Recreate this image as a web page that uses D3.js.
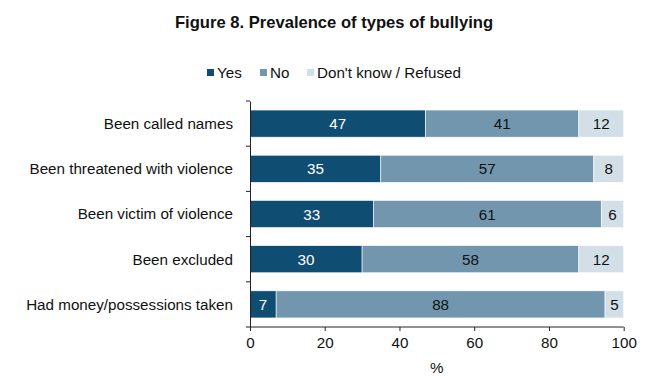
<!DOCTYPE html>
<html><head><meta charset="utf-8">
<script src="https://cdn.jsdelivr.net/npm/d3@7"></script>
<style>body{margin:0;background:#fff}svg{display:block;font-family:"Liberation Sans",Arial,sans-serif}</style>
</head><body>
<svg id="c" width="661" height="382"></svg>
<script>
const categories = ["Been called names","Been threatened with violence","Been victim of violence","Been excluded","Had money/possessions taken"];
const seriesNames = ["Yes","No","Don't know / Refused"];
const yesValues = [47,35,33,30,7];
const noValues = [41,57,61,58,88];
const dkValues = [12,8,6,12,5];
const xTicks = [0,20,40,60,80,100];
const colors = ["#0f4d72","#7196ae","#d3dfe7"];
const labelColors = ["#ffffff","#111111","#111111"];

const svg = d3.select("#c");
const margin = {left:250, right:37, top:101, bottom:55};
const x = d3.scaleLinear().domain([0,100]).range([margin.left, 623.7]);
const y = d3.scaleBand().domain(categories).range([margin.top, 327]).paddingInner(0.4).paddingOuter(0.2);
const FS = 15.2;

svg.append("text").attr("x",334).attr("y",28).attr("text-anchor","middle")
  .attr("font-weight","bold").attr("font-size",16.6).attr("fill","#111").text("Figure 8. Prevalence of types of bullying");

// legend
const legX = [207,260,307];
seriesNames.forEach((n,i)=>{
  svg.append("rect").attr("x",legX[i]).attr("y",69).attr("width",7).attr("height",7).attr("fill",colors[i]);
  svg.append("text").attr("x",legX[i]+10).attr("y",78).attr("font-size",FS).attr("fill","#111").text(n);
});

const rows = categories.map((c,i)=>({c, vals:[yesValues[i],noValues[i],dkValues[i]]}));
rows.forEach(r=>{
  let acc=0;
  r.vals.forEach((v,j)=>{
    const x0=x(acc), x1=x(acc+v);
    svg.append("rect").attr("x",x0).attr("y",y(r.c)).attr("width",x1-x0).attr("height",y.bandwidth())
      .attr("fill",colors[j]).attr("stroke","#fff").attr("stroke-width",0.6);
    svg.append("text").attr("x",(x0+x1)/2).attr("y",y(r.c)+y.bandwidth()/2+5.5).attr("text-anchor","middle")
      .attr("font-size",FS).attr("fill",labelColors[j]).text(v);
    acc+=v;
  });
});

// y axis
const yAxis = d3.axisLeft(y).tickSize(0).tickPadding(17);
const gy = svg.append("g").attr("transform",`translate(${margin.left},0)`).call(yAxis);
gy.select(".domain").attr("stroke","#222");
gy.selectAll("text").attr("font-size",FS).attr("fill","#111").attr("font-family","Liberation Sans, Arial, sans-serif").attr("dy","0.35em");
const bounds = categories.map(c=>y(c)-y.step()*y.paddingInner()/2).concat([327]);
bounds.forEach(b=>{
  svg.append("line").attr("x1",margin.left-4).attr("x2",margin.left).attr("y1",b).attr("y2",b).attr("stroke","#222");
});

// x axis
const xAxis = d3.axisBottom(x).tickValues(xTicks).tickSize(4).tickPadding(6);
const gx = svg.append("g").attr("transform","translate(0,327)").call(xAxis);
gx.select(".domain").attr("stroke","#222").attr("d",`M${x(0)},0H${x(100)}`);
gx.selectAll(".tick line").attr("stroke","#222");
gx.selectAll("text").attr("font-size",FS).attr("fill","#111").attr("font-family","Liberation Sans, Arial, sans-serif");
svg.append("text").attr("x",x(50)).attr("y",373).attr("text-anchor","middle").attr("font-size",FS).attr("fill","#111").text("%");
</script>
</body></html>
